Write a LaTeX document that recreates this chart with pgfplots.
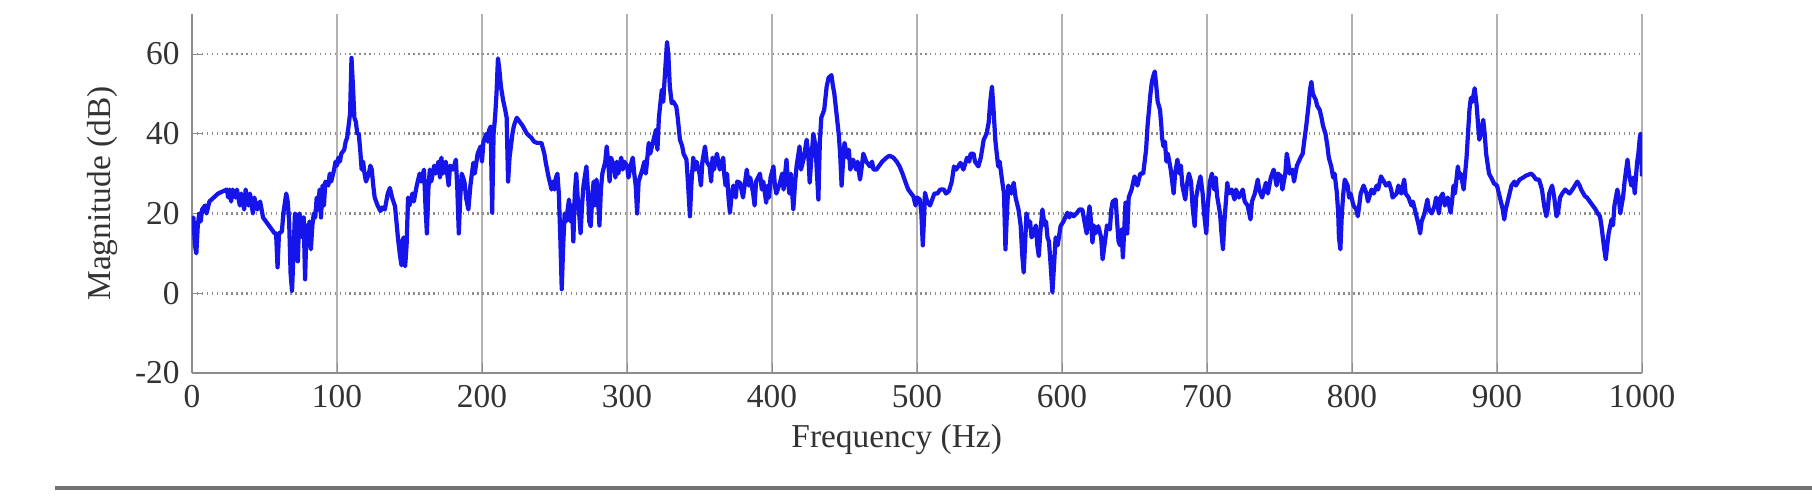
\documentclass[border=0pt]{standalone}
\usepackage{fontspec}
\setmainfont{Liberation Serif}
\usepackage{pgfplots}
\usepackage{pgfplotstable}
\pgfplotsset{compat=1.18}

\pgfplotstableread{
f db
0 17
1 19
2 12
3 10
4 17
5 20
6 18
7 21
9 22
10 20
12 23
15 24
18 25
21 25.5
24 26
25 24
26 26
27 23
28 26
30 24
31 26
33 22
34 25
36 21
37 26
39 22
40 25
42 20
43 24
45 21
47 23
49 19
51 18
53 17
55 16
57 15
58 15
59 6.5
60 15
62 15.5
63 20
65 25
66 23
67 18
68 5
69 0.5
70 10
71 20
72 19
73 8
74 20
75 18
76 14
77 19
78 3.5
79 17
80 12
81 18
82 11
83 17
84 20
85 19
86 24
87 21
88 26
89 19
90 27
91 22
92 28
94 27
95 30
96 28
98 31
99 33
100 32
101 34
102 33
103 35
105 36
106 38
107 39
108 42
109 45
110 59
111 52
112 44
113 43
114 40
115 40
116 36
117 31
118 33
119 30
120 28
121 29
122 30
123 32
124 31
125 27
126 24
127 23
128 22
130 20.6
131 21.5
133 21
134 23
135 25
136.5 26.4
138 24
140 21.8
141 18
142 14
143.5 9.3
144.5 7
145 13
146 14
147 6.75
148 12
149 24
150 22
152 25
153 23
155 27
157 30
158 28
160 31
161 22
162 15
163 26
164 31
165 28
167 32
168 30
170 33
171 29
172 34
173 30
175 33
176 30
177 27
178 32
180 31
182 33.5
183 26
184 15
185 24
186 30
187 29
188 27.7
189 24
190.6 21
192 27
194 32.7
195 30
197 35
199 36.8
200 33
201 38
203 40
204 38
205 41
206 41.8
207 20.2
208 40
209 44
210 50
211 58.9
212 56
213 52
214.5 48.5
216 46
217 44
218 28
219 34
221 40
222 42
224 44
226 43
228 42
231 40
234 39
236 38
238 37.7
241 37.7
243 35
244 32.7
246 29
248 26
249 28
250 26
251 29
252 30
253 25
254 14
255 1
256 12
257 20
258 18
260 23.5
261 18
262 22
263 13
264 25
265 30
266 24
267 20
268 15
269 22
270 27
272 31.8
273 26
274 18
275 16.8
276 24
277 28
278 22
279 28.5
280 24
281 17
282 26
283 30
285 33
286 36.8
287 33
288 28
289 34
291 31.8
292 29
293 33
294 30
296 34
297 31
298 33
300 32
301 29
303 32.7
304 34
305 30
306 27
307 20
308 28
310.6 31
312 33
313 30
315 37.7
316 35
318 38
320 41
321 36
322 44
324 51
325 48
326 54
327.6 63
328.5 60
329.5 52
330.8 47.7
332 48
334 46.8
335 44
336.5 38.5
338 37
339 35
341 33.5
342 28
343.4 19.3
344.5 28
345.7 34
347 31
348 33
350 30
351 27
352 33
353.8 36.8
355 33
357 31.8
358 28
359 34
360 31
362 35
364 31
366.4 34
367 30
368 27
369 30
370 24
371 20.2
372 24
373.3 27
375 24
376 28
378 27.7
380 24
382.6 31
384 27
385 29
387 25
388 22
389 28
391.7 30
393 26
394 28
396 22.7
397 27
398 24
399 29
401 31.8
402 27
403 25
405.5 27.7
407 30
408 26
410 33.5
411 28
412 25
413 30
414.7 21
416 28
417 32
419 36.8
420 31
422 34
423.9 38.5
425 35
426 27.7
427 33
428.5 40
430 37
431 30
432 23.5
433 38
434 44
436 46
437.7 51.8
439 54
441 54.7
442 52
443 50
444.5 45
446 40
447 35
448 27
449 33
450 37.7
452 34
453 36
454 31
456 33.5
458 31
459 33
460.7 28.5
462 32
463 35
465 33
467.6 31.8
469 33
470 31
472 31
474 32
476 33
479 34
481 34.5
483.7 34
486 33
488 31.8
490 30
492.9 27
494 26
496 25
497.5 24.3
499 22
500 24
502 23.5
503 20
504 12
505 20
505.5 25.2
507 23
509 22
511 24
512 25
514 25
516 26
518.6 26
520 25
522 25.6
524 28
525.5 31.8
527 31
530 32.7
532 31
534.5 34
536 33
537 35
539 35
540 33
542.3 31.8
544 34
546 38.5
548 40
549.4 42.7
550.5 48
551.7 51.8
552.8 46
554 38.5
555 35
556 31.8
557 33
558.6 28.5
560 25
561 11
562 20
563 27
565 25
566.7 27.7
568 24
570 21
571.5 17
572.5 10
573.6 5.2
574.5 12
575.5 20
577 16.8
578 18
579 14
580.5 15
582 17
583 12
584 9.3
585 15
586.5 21
588 17
589 18
590 14
591 13
592 8
593.4 0.2
594.5 7
595.6 14
597 12
599 16.8
601 18
603.7 20.2
605 19
606 20
608 19.3
610 20
612 21
614 21
615 19
617 15
618 19
619 21.8
620 18
621 12.7
622 17
623 15
625 16.8
627 14
628 8.5
630 14
631 17
633 16
634 21
635 23
637 23.5
638 18
639 13
640 12
641 16
642 9
643.8 22.7
645 15
646 24
648 26
650 29.3
652 27
654 30
656 30
658 36
659 42
660 46
661 50
662 53
663 54.5
664 55.6
665 52
666 48
667.6 46
668.5 42
669 39
670 36.8
671 38
672 33
673 35
675 31
676 28
677 25
678 30
679.6 33.5
681 30
682 32
683 27
685 23.5
686 27
687.5 30
689 28
690 22
691.5 16.8
692.5 24
694 27
695.5 29.3
697 25
698 20
699.5 15
700.5 22
702 28
703.4 30
705 26
706 29
707 24.3
709 20
710 15
711 11
712 18
714 27.7
715 25
717 26
719 23.5
720 26
722 24
724.7 26
726 23
728 22
730 18.5
731 23
733 25
735 28.5
736 26
738 24
740.6 27.7
742 25
744 29
746 31
748 27
749 30
751 29.3
752 26
754 30
755 35
756 33
757 30
759 31
760 28
762 32
764.5 34
766 35
767 38
768.4 41.8
770 47
771 51
772 53
773 50
775 48.5
776 47
777.7 46
779 44
780 42
781.7 40
783 37
784 34
785.7 31.8
787 29
788 30
789.6 25
790.5 20
791 14
792 11
793 20
794 25
795 28.5
797 27
798 24
799 25
801 22
803 21
804 19.3
805 22
806 25
808 27
810 25
811 23
813.5 26
815 25
817 27
818 26
820 29.3
822 28
823.5 27
825.5 27.7
827 26
828 24
830.8 25
832 27
834 25
836 28.5
837 25
839 24
841 22
842 23
844 20
846 17
847 15
848 18
850 20
852 23.5
853 21
855 20
857 22
858 24
860 20
861 24
862.6 25
864 22
866 24
868 20.2
869 23
870 27
871 25
873 31.8
874 29
875 30
877 26
878 30
879 34
880 40
881 46
882 49
883 48
884.6 51.4
886 47
887 42
887.8 38.5
889 40
890.5 43.5
891.5 40
892.5 35
894.5 30
896 29
898 27.5
900 27
902 24
904 21
905 18.5
906 21
908 24
910 27
912 28
913 27
915.6 28.5
918 29
920 29.5
923.6 30
925 29.5
927 28.5
929 28.5
931 26
932.5 22
934 19.3
935 21
936 25
938 27
939.5 24
941 19.3
942 20
943.5 24
945 25
947 26
950 25
952 26
955.4 28
957 27
958 26
960.7 24.3
962 24
964 23
966 22
968 21
969.5 20
971 19.3
972 17
973 14
974 11
975 8.5
976 12
977 15
979 18.5
980 17
981 22
983 26
984 24
985 20
987 24.3
988 28
990 33.5
991 30
992.6 27
994 29
995 25
996.6 32.7
997.5 35
998.5 39
999 40
999.5 35
1000 29.3
}\spectrum

\begin{document}
\begin{tikzpicture}
\path[use as bounding box] (-1.92cm,-1.25cm) rectangle (16.2cm,3.73cm);
\begin{axis}[
  at={(0,0)}, anchor=south west,
  scale only axis, width=14.5cm, height=3.59cm,
  xmin=0, xmax=1000, ymin=-20, ymax=70,
  xtick={0,100,...,1000}, ytick={-20,0,20,40,60},
  axis x line=bottom, axis y line=left,
  axis line style={-, black!45, line width=0.8pt},
  tick style={black!45}, major tick length=1mm, tick align=inside,
  xmajorgrids, ymajorgrids,
  x grid style={black!30, line width=0.6pt},
  y grid style={black!45, densely dotted, line width=0.8pt},
  /pgf/number format/assume math mode=true,
  /pgf/number format/1000 sep={},
  ticklabel style={font=\fontsize{9.5}{11}\selectfont, text=black!80},
  xticklabel style={anchor=center, yshift=-2.4mm},
  xlabel={Frequency (Hz)}, ylabel={Magnitude (dB)},
  label style={font=\fontsize{9.5}{11}\selectfont, text=black!80},
  xlabel style={at={(axis description cs:0.486,-0.185)}, anchor=center},
  ylabel style={at={(axis description cs:-0.062,0.5)}, anchor=center},
]
\addplot[color={rgb,255:red,20;green,20;blue,235}, line width=1.2pt, line join=round] table[x=f, y=db] {\spectrum};
\end{axis}
\draw[black!55, line width=0.9pt] (-1.37cm,-1.15cm) -- (16.2cm,-1.15cm);
\end{tikzpicture}
\end{document}
